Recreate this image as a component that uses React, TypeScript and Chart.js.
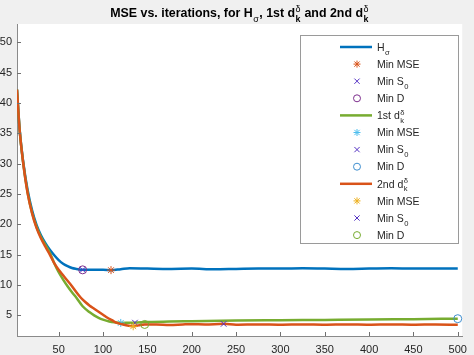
import React, { useEffect, useRef } from 'react';
import { Chart, registerables } from 'chart.js';
Chart.register(...registerables);

// ---------- data ----------
const xTickValues = [50, 100, 150, 200, 250, 300, 350, 400, 450, 500];
const yTickValues = [5, 10, 15, 20, 25, 30, 35, 40, 45, 50];

const iterH = [3, 6, 10, 15, 20, 25, 30, 35, 40, 45, 50, 55, 60, 65, 70, 77, 90, 100, 109, 120, 130, 150, 175, 200, 225, 250, 275, 300, 325, 350, 375, 400, 425, 450, 475, 500];
const mseH = [42.2, 35.6, 30.3, 25.6, 22.3, 19.9, 18.2, 16.9, 15.8, 14.9, 14.1, 13.5, 13.1, 12.8, 12.65, 12.5, 12.5, 12.5, 12.45, 12.6, 12.75, 12.7, 12.65, 12.7, 12.6, 12.65, 12.7, 12.7, 12.75, 12.7, 12.65, 12.7, 12.75, 12.7, 12.7, 12.7];

const iter1st = [3, 6, 10, 15, 20, 25, 30, 35, 40, 45, 50, 55, 60, 65, 70, 77, 85, 90, 95, 100, 107, 113, 120, 128, 136, 150, 175, 200, 250, 300, 350, 400, 450, 500];
const mse1st = [42.2, 35.5, 30.1, 25.2, 21.9, 19.6, 17.9, 16.6, 15.3, 13.6, 12.1, 10.9, 9.8, 8.8, 7.9, 6.5, 5.5, 5.0, 4.6, 4.3, 4.0, 3.85, 3.75, 3.77, 3.8, 3.9, 4.0, 4.05, 4.15, 4.2, 4.25, 4.3, 4.38, 4.45];

const iter2nd = [3, 6, 10, 15, 20, 25, 30, 35, 40, 45, 50, 55, 60, 65, 70, 75, 80, 85, 90, 95, 100, 105, 110, 115, 120, 125, 134, 140, 147, 160, 175, 190, 200, 215, 236, 250, 275, 300, 325, 350, 375, 400, 425, 450, 475, 500];
const mse2nd = [42.2, 35.5, 30.1, 25.1, 21.8, 19.4, 17.7, 16.3, 15.0, 13.6, 12.5, 11.6, 10.7, 9.8, 8.8, 7.9, 7.2, 6.6, 6.1, 5.6, 5.1, 4.6, 4.2, 3.8, 3.6, 3.4, 3.2, 3.35, 3.5, 3.5, 3.4, 3.5, 3.55, 3.5, 3.6, 3.45, 3.5, 3.45, 3.5, 3.45, 3.5, 3.45, 3.5, 3.45, 3.5, 3.45];

// markers: [minMSE, minS0, minD] as [x, y]
const markersH = [[109, 12.45], [77, 12.5], [77, 12.5]];
const markers1st = [[120, 3.75], [136, 3.8], [500, 4.45]];
const markers2nd = [[134, 3.2], [236, 3.6], [147, 3.5]];

// ---------- styles ----------
const BLUE = '#0072BD';
const GREEN = '#77AC30';
const ORANGE = '#D95319';
const XCOL = '#5533c4';
const FONT = '"Liberation Sans", Arial, Helvetica, sans-serif';

type Seg = { t?: string; sub?: string; sup?: string; subBold?: boolean };

function richWidth(ctx: CanvasRenderingContext2D, segs: Seg[], size: number, weight: string) {
  let w = 0;
  const small = size * 0.72;
  for (const s of segs) {
    if (s.t !== undefined) {
      ctx.font = `${weight} ${size}px ${FONT}`;
      w += ctx.measureText(s.t).width;
    } else {
      let m = 0;
      if (s.sub) {
        ctx.font = `${s.subBold ? 'bold' : 'normal'} ${small}px ${FONT}`;
        m = Math.max(m, ctx.measureText(s.sub).width);
      }
      if (s.sup) {
        ctx.font = `normal ${small}px ${FONT}`;
        m = Math.max(m, ctx.measureText(s.sup).width);
      }
      w += m + 1;
    }
  }
  return w;
}

function drawRich(ctx: CanvasRenderingContext2D, segs: Seg[], x: number, y: number, size: number, weight: string, color: string) {
  const small = size * 0.72;
  ctx.save();
  ctx.fillStyle = color;
  ctx.textBaseline = 'alphabetic';
  ctx.textAlign = 'left';
  let cx = x;
  for (const s of segs) {
    if (s.t !== undefined) {
      ctx.font = `${weight} ${size}px ${FONT}`;
      ctx.fillText(s.t, cx, y);
      cx += ctx.measureText(s.t).width;
    } else {
      let m = 0;
      if (s.sub) {
        ctx.font = `${s.subBold ? 'bold' : 'normal'} ${small}px ${FONT}`;
        ctx.fillText(s.sub, cx + 0.5, y + size * 0.38);
        m = Math.max(m, ctx.measureText(s.sub).width);
      }
      if (s.sup) {
        ctx.font = `normal ${small}px ${FONT}`;
        ctx.fillText(s.sup, cx + 0.5, y - size * 0.42);
        m = Math.max(m, ctx.measureText(s.sup).width);
      }
      cx += m + 1;
    }
  }
  ctx.restore();
}

function drawMarker(ctx: CanvasRenderingContext2D, style: string, x: number, y: number, r: number, color: string) {
  ctx.save();
  ctx.strokeStyle = color;
  ctx.lineWidth = 1;
  ctx.beginPath();
  const d = r * 0.75;
  if (style === 'circle') {
    ctx.arc(x, y, r, 0, Math.PI * 2);
  } else if (style === 'crossRot') {
    ctx.moveTo(x - d, y - d); ctx.lineTo(x + d, y + d);
    ctx.moveTo(x + d, y - d); ctx.lineTo(x - d, y + d);
  } else {
    ctx.moveTo(x - d, y - d); ctx.lineTo(x + d, y + d);
    ctx.moveTo(x + d, y - d); ctx.lineTo(x - d, y + d);
    ctx.moveTo(x - r, y); ctx.lineTo(x + r, y);
    ctx.moveTo(x, y - r); ctx.lineTo(x, y + r);
  }
  ctx.stroke();
  ctx.restore();
}

const dK: Seg = { sup: 'δ', sub: 'k' };
const legendRows: { kind: string; color: string; label: Seg[] }[] = [
  { kind: 'line', color: BLUE, label: [{ t: 'H' }, { sub: 'σ' }] },
  { kind: 'star', color: ORANGE, label: [{ t: 'Min MSE' }] },
  { kind: 'crossRot', color: XCOL, label: [{ t: 'Min S' }, { sub: '0' }] },
  { kind: 'circle', color: '#7E2F8E', label: [{ t: 'Min D' }] },
  { kind: 'line', color: GREEN, label: [{ t: '1st d' }, dK] },
  { kind: 'star', color: '#4DBEEE', label: [{ t: 'Min MSE' }] },
  { kind: 'crossRot', color: XCOL, label: [{ t: 'Min S' }, { sub: '0' }] },
  { kind: 'circle', color: '#3f8fd0', label: [{ t: 'Min D' }] },
  { kind: 'line', color: ORANGE, label: [{ t: '2nd d' }, dK] },
  { kind: 'star', color: '#EDB120', label: [{ t: 'Min MSE' }] },
  { kind: 'crossRot', color: XCOL, label: [{ t: 'Min S' }, { sub: '0' }] },
  { kind: 'circle', color: GREEN, label: [{ t: 'Min D' }] },
];

const titleSegs: Seg[] = [
  { t: 'MSE vs. iterations, for H' }, { sub: 'σ' },
  { t: ', 1st d' }, { sup: 'δ', sub: 'k', subBold: true },
  { t: ' and 2nd d' }, { sup: 'δ', sub: 'k', subBold: true },
];

const pts = (xs: number[], ys: number[]) => xs.map((x, i) => ({ x, y: ys[i] }));

function lineDs(xs: number[], ys: number[], color: string, order: number) {
  return {
    data: pts(xs, ys), borderColor: color, borderWidth: 2.5, pointRadius: 0,
    cubicInterpolationMode: 'monotone', fill: false, order,
  };
}
function markDs(p: number[], style: string, color: string, order: number) {
  return {
    data: [{ x: p[0], y: p[1] }], showLine: false, pointStyle: style, pointRadius: 4,
    pointBorderColor: color, pointBackgroundColor: 'rgba(0,0,0,0)', pointBorderWidth: 1,
    borderColor: color, clip: false, order,
  };
}

const decoPlugin = {
  id: 'deco',
  beforeDraw(chart: any) {
    const { ctx, chartArea: a, width, height } = chart;
    ctx.save();
    ctx.fillStyle = '#f0f0f0';
    ctx.fillRect(0, 0, width, height);
    ctx.fillStyle = '#ffffff';
    ctx.fillRect(a.left, a.top, a.right - a.left, a.bottom - a.top);
    ctx.restore();
  },
  afterDraw(chart: any) {
    const { ctx, chartArea: a, scales } = chart;
    // inward ticks
    ctx.save();
    ctx.strokeStyle = '#707070';
    ctx.lineWidth = 1;
    ctx.beginPath();
    for (const v of xTickValues) {
      const px = Math.round(scales.x.getPixelForValue(v)) + 0.5;
      ctx.moveTo(px, a.bottom); ctx.lineTo(px, a.bottom - 4);
    }
    for (const v of yTickValues) {
      const py = Math.round(scales.y.getPixelForValue(v)) + 0.5;
      ctx.moveTo(a.left, py); ctx.lineTo(a.left + 4, py);
    }
    ctx.stroke();
    ctx.restore();

    // title
    const tw = richWidth(ctx, titleSegs, 12.4, 'bold');
    drawRich(ctx, titleSegs, (a.left + a.right) / 2 - tw / 2, 17, 12.4, 'bold', '#000');

    // legend
    const bx = 300, by = 35, bw = 158, bh = 208;
    ctx.save();
    ctx.fillStyle = '#fff';
    ctx.fillRect(bx, by, bw, bh);
    ctx.strokeStyle = '#9a9a9a';
    ctx.lineWidth = 1;
    ctx.strokeRect(bx + 0.5, by + 0.5, bw, bh);
    legendRows.forEach((r, i) => {
      const cy = 47 + i * 17.1;
      if (r.kind === 'line') {
        ctx.strokeStyle = r.color;
        ctx.lineWidth = 2.5;
        ctx.beginPath();
        ctx.moveTo(340, cy); ctx.lineTo(372, cy);
        ctx.stroke();
      } else {
        drawMarker(ctx, r.kind, 357, cy, 3.5, r.color);
      }
      drawRich(ctx, r.label, 377, cy + 3.7, 10.5, 'normal', '#262626');
    });
    ctx.restore();
  },
};

export default function App() {
  const ref = useRef<HTMLCanvasElement>(null);
  useEffect(() => {
    document.body.style.margin = '0';
    const datasets: any[] = [
      lineDs(iterH, mseH, BLUE, 12),
      markDs(markersH[0], 'star', ORANGE, 11),
      markDs(markersH[1], 'crossRot', XCOL, 10),
      markDs(markersH[2], 'circle', '#7E2F8E', 9),
      lineDs(iter1st, mse1st, GREEN, 8),
      markDs(markers1st[0], 'star', '#4DBEEE', 7),
      markDs(markers1st[1], 'crossRot', XCOL, 6),
      markDs(markers1st[2], 'circle', '#3f8fd0', 5),
      lineDs(iter2nd, mse2nd, ORANGE, 4),
      markDs(markers2nd[0], 'star', '#EDB120', 3),
      markDs(markers2nd[1], 'crossRot', XCOL, 2),
      markDs(markers2nd[2], 'circle', GREEN, 1),
    ];
    const chart = new Chart(ref.current!, {
      type: 'line',
      data: { datasets },
      options: {
        responsive: false,
        animation: false,
        devicePixelRatio: 1,
        layout: { padding: { left: 0, right: 6, top: 24, bottom: 0 } },
        plugins: { legend: { display: false }, tooltip: { enabled: false }, title: { display: false } },
        scales: {
          x: {
            type: 'linear', min: 3, max: 505,
            afterBuildTicks: (s: any) => { s.ticks = xTickValues.map((v) => ({ value: v })); },
            afterFit: (s: any) => { s.height = 19; },
            grid: { display: true, drawOnChartArea: false, drawTicks: false },
            border: { display: true, color: '#8a8a8a', width: 1 },
            ticks: { padding: 7, color: '#262626', font: { family: FONT, size: 11 }, maxRotation: 0, autoSkip: false },
          },
          y: {
            type: 'linear', min: 1.6, max: 53,
            afterBuildTicks: (s: any) => { s.ticks = yTickValues.map((v) => ({ value: v })); },
            afterFit: (s: any) => { s.width = 17; },
            grid: { display: true, drawOnChartArea: false, drawTicks: false },
            border: { display: true, color: '#8a8a8a', width: 1 },
            ticks: { padding: 5, color: '#262626', font: { family: FONT, size: 11 }, autoSkip: false },
          },
        },
      },
      plugins: [decoPlugin],
    } as any);
    return () => chart.destroy();
  }, []);
  return (
    <div style={{ width: 474, height: 355 }}>
      <canvas ref={ref} width={474} height={355} style={{ display: 'block' }} />
    </div>
  );
}
